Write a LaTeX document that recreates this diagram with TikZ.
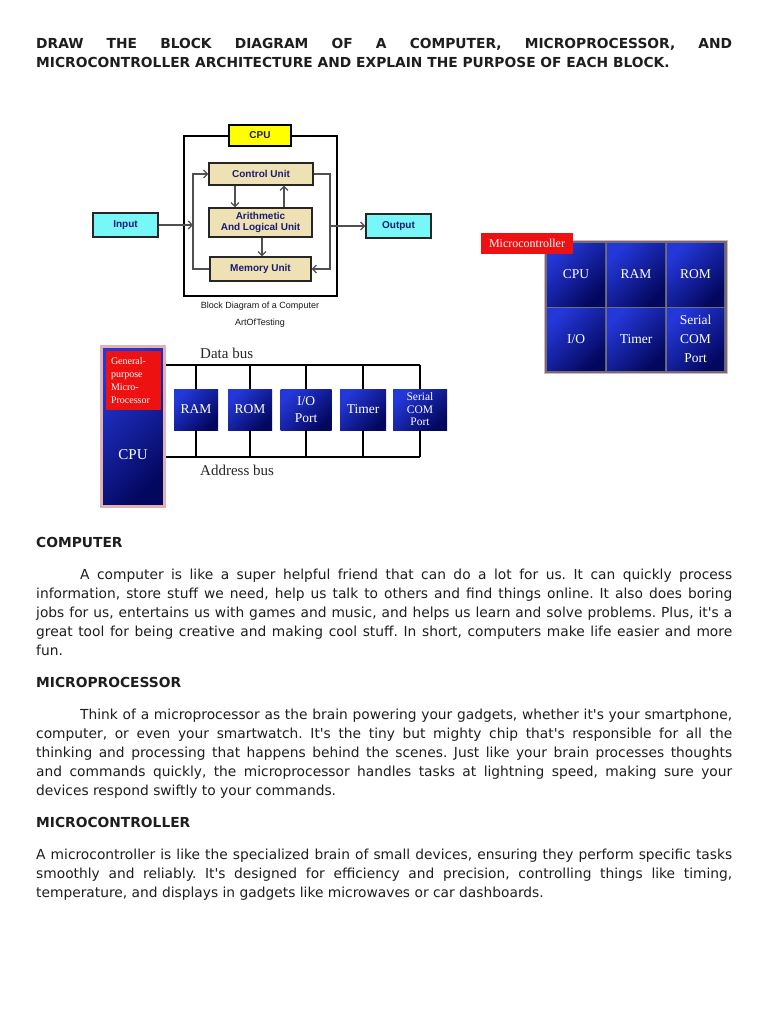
\documentclass[tikz,border=0pt]{standalone}
\usepackage{fontspec}
\setmainfont{DejaVu Sans}[Ligatures=TeXOff]
\newfontfamily\arialf{Liberation Sans}
\newfontfamily\timesf{Liberation Serif}
\usetikzlibrary{arrows.meta,calc}
\definecolor{navyT}{HTML}{1B1B70}
\definecolor{tanb}{HTML}{EEE2B4}
\definecolor{cyanb}{HTML}{77F7F7}
\definecolor{yelb}{HTML}{FFFF00}
\definecolor{lineg}{HTML}{505050}
\definecolor{bLight}{HTML}{2438DA}
\definecolor{bDark}{HTML}{03075E}
\definecolor{redb}{HTML}{EE1111}
\definecolor{pinkb}{HTML}{E2B2B2}
\definecolor{gridg}{HTML}{6E6E78}
\definecolor{txt}{HTML}{1E1E1E}
\hbadness=10000
\frenchspacing
\tikzset{
  box/.style={rectangle, inner sep=0pt, align=center},
  cblock/.style={box, draw=black!85, line width=1.2pt, fill=tanb, text=navyT, font=\arialf\bfseries\fontsize{10}{11.5}\selectfont},
  ioblock/.style={cblock, fill=cyanb},
  bluecell/.style={box, top color=bLight, bottom color=bDark, shading angle=45, text=white},
  conn/.style={draw=lineg, line width=1.3pt},
  arr/.style={conn, -{Straight Barb[length=4pt,width=8pt,line width=1.2pt]}},
  bus/.style={draw=black, line width=1.6pt},
  para/.style={inner sep=0pt, anchor=base west, text width=696pt, align=justify, text=txt, font=\fontsize{13.8}{19}\selectfont\frenchspacing},
  head/.style={inner sep=0pt, anchor=base west, text=txt, font=\bfseries\fontsize{13.8}{19}\selectfont},
}
\begin{document}
\begin{tikzpicture}[x=1pt, y=-1pt]
\useasboundingbox (0,0) rectangle (768,1024);
\fill[white] (0,0) rectangle (768,1024);

% Title
\node[para, font=\bfseries\fontsize{13.8}{19}\selectfont] (title) at (36,49)
  {DRAW THE BLOCK DIAGRAM OF A COMPUTER, MICROPROCESSOR, AND\linebreak MICROCONTROLLER ARCHITECTURE AND EXPLAIN THE PURPOSE OF EACH BLOCK.};

% ---------------- Computer block diagram ----------------
\node[box, draw=black, line width=1.5pt, minimum width=153pt, minimum height=160pt] (cpubox) at (260.5,216) {};
\node[cblock, fill=yelb, draw=black, minimum width=62pt, minimum height=21pt] (cpulbl) at (260,135.5) {CPU};
\node[cblock, minimum width=104pt, minimum height=22pt] (ctrl) at (261,174) {Control Unit};
\node[cblock, minimum width=103pt, minimum height=29pt] (alu) at (260.5,222.5) {Arithmetic\\And Logical Unit};
\node[cblock, minimum width=101pt, minimum height=24pt] (mem) at (260.5,269) {Memory Unit};
\node[ioblock, minimum width=65pt, minimum height=24pt] (inp) at (125.5,225) {Input};
\node[ioblock, minimum width=65pt, minimum height=24pt] (outp) at (398.5,226) {Output};

\coordinate (xL) at (193,0);
\coordinate (xR) at (330,0);
\coordinate (xa) at (235,0);
\coordinate (xb) at (284,0);
\coordinate (xc) at (262,0);

\draw[arr] (mem.west) -- (xL |- mem.west) -- (xL |- ctrl.west) -- (ctrl.west);
\draw[arr] (inp.east) -- (xL |- inp.east);
\draw[arr] (ctrl.east) -- (xR |- ctrl.east) -- (xR |- mem.east) -- (mem.east);
\draw[arr] (xR |- outp.west) -- (outp.west);
\draw[arr] (xa |- ctrl.south) -- (xa |- alu.north);
\draw[arr] (xb |- alu.north) -- (xb |- ctrl.south);
\draw[arr] (xc |- alu.south) -- (xc |- mem.north);

\node[font=\arialf\fontsize{9}{10}\selectfont, text=black!90] (cap1) at (260,306) {Block Diagram of a Computer};
\node[font=\arialf\fontsize{9}{10}\selectfont, text=black!90] (cap2) at (260,323) {ArtOfTesting};

% ---------------- Microcontroller ----------------
\node[box, fill=gridg, draw=pinkb, line width=1pt, minimum width=183pt, minimum height=133pt] (mcframe) at (635.5,306.5) {};
\begin{scope}[every node/.append style={font=\timesf\fontsize{13.5}{19}\selectfont}]
\node[bluecell, minimum width=58pt, minimum height=63pt] (mcpu) at (576,274.5) {CPU};
\node[bluecell, minimum width=58pt, minimum height=63pt] (mram) at (636,274.5) {RAM};
\node[bluecell, minimum width=57pt, minimum height=63pt] (mrom) at (695.5,274.5) {ROM};
\node[bluecell, minimum width=58pt, minimum height=62pt] (mio) at (576,339) {I/O};
\node[bluecell, minimum width=58pt, minimum height=62pt] (mtim) at (636,339) {Timer};
\node[bluecell, minimum width=57pt, minimum height=62pt] (mser) at (695.5,339) {Serial\\COM\\Port};
\end{scope}
\node[box, fill=redb, text=white, minimum width=92pt, minimum height=21pt, font=\timesf\fontsize{12}{13}\selectfont] (mclbl) at (527,243.5) {Microcontroller};

% ---------------- Microprocessor ----------------
\node[bluecell, draw=pinkb, line width=3pt, minimum width=63pt, minimum height=160pt] (cput) at (133,426.5) {};
\node[box, fill=redb, text=white, minimum width=55pt, minimum height=59pt, text width=45pt, align=left, font=\timesf\fontsize{10}{13}\selectfont] (gp) at (133.5,380.5) {General-\\purpose\\Micro-\\Processor};
\node[text=white, font=\timesf\fontsize{15}{17}\selectfont] (cputxt) at (133,455) {CPU};

\begin{scope}[every node/.append style={minimum height=41pt}]
\node[bluecell, minimum width=44pt, font=\timesf\fontsize{13.5}{17}\selectfont] (ram) at (196,409.5) {RAM};
\node[bluecell, minimum width=44pt, font=\timesf\fontsize{13.5}{17}\selectfont] (rom) at (250,409.5) {ROM};
\node[bluecell, minimum width=51pt, font=\timesf\fontsize{13.5}{17}\selectfont] (iop) at (306,409.5) {I/O\\Port};
\node[bluecell, minimum width=46pt, font=\timesf\fontsize{13.5}{17}\selectfont] (tim) at (363,409.5) {Timer};
\node[bluecell, minimum width=54pt, font=\timesf\fontsize{11.5}{12.5}\selectfont] (ser) at (420,409.5) {Serial\\COM\\Port};
\end{scope}

\coordinate (dbL) at (166,365);
\coordinate (abL) at (166,457);
\draw[bus] (dbL) -- (ser.north |- dbL);
\draw[bus] (abL) -- (ser.south |- abL);
\foreach \b in {ram,rom,iop,tim,ser}{
  \draw[bus] (\b.north) -- (\b.north |- dbL);
  \draw[bus] (\b.south) -- (\b.south |- abL);
}
\node[anchor=base west, inner sep=0pt, font=\timesf\fontsize{15}{17}\selectfont, text=black!85] (dbtxt) at (200,358) {Data bus};
\node[anchor=base west, inner sep=0pt, font=\timesf\fontsize{15}{17}\selectfont, text=black!85] (abtxt) at (200,475) {Address bus};

% ---------------- Text sections ----------------
\node[head] (h1) at (36,547) {COMPUTER};
\node[para] (p1) at (36,579) {\hspace*{44pt}A computer is like a super helpful friend that can do a lot for us. It can quickly process\linebreak information, store stuff we need, help us talk to others and find things online. It also does boring\linebreak jobs for us, entertains us with games and music, and helps us learn and solve problems. Plus, it's a\linebreak great tool for being creative and making cool stuff. In short, computers make life easier and more\linebreak fun.};

\node[head] (h2) at (36,687) {MICROPROCESSOR};
\node[para] (p2) at (36,719) {\hspace*{44pt}Think of a microprocessor as the brain powering your gadgets, whether it's your smartphone,\linebreak computer, or even your smartwatch. It's the tiny but mighty chip that's responsible for all the\linebreak thinking and processing that happens behind the scenes. Just like your brain processes thoughts\linebreak and commands quickly, the microprocessor handles tasks at lightning speed, making sure your\linebreak devices respond swiftly to your commands.};

\node[head] (h3) at (36,827) {MICROCONTROLLER};
\node[para] (p3) at (36,859) {A microcontroller is like the specialized brain of small devices, ensuring they perform specific tasks\linebreak smoothly and reliably. It's designed for efficiency and precision, controlling things like timing,\linebreak temperature, and displays in gadgets like microwaves or car dashboards.};
\end{tikzpicture}
\end{document}
